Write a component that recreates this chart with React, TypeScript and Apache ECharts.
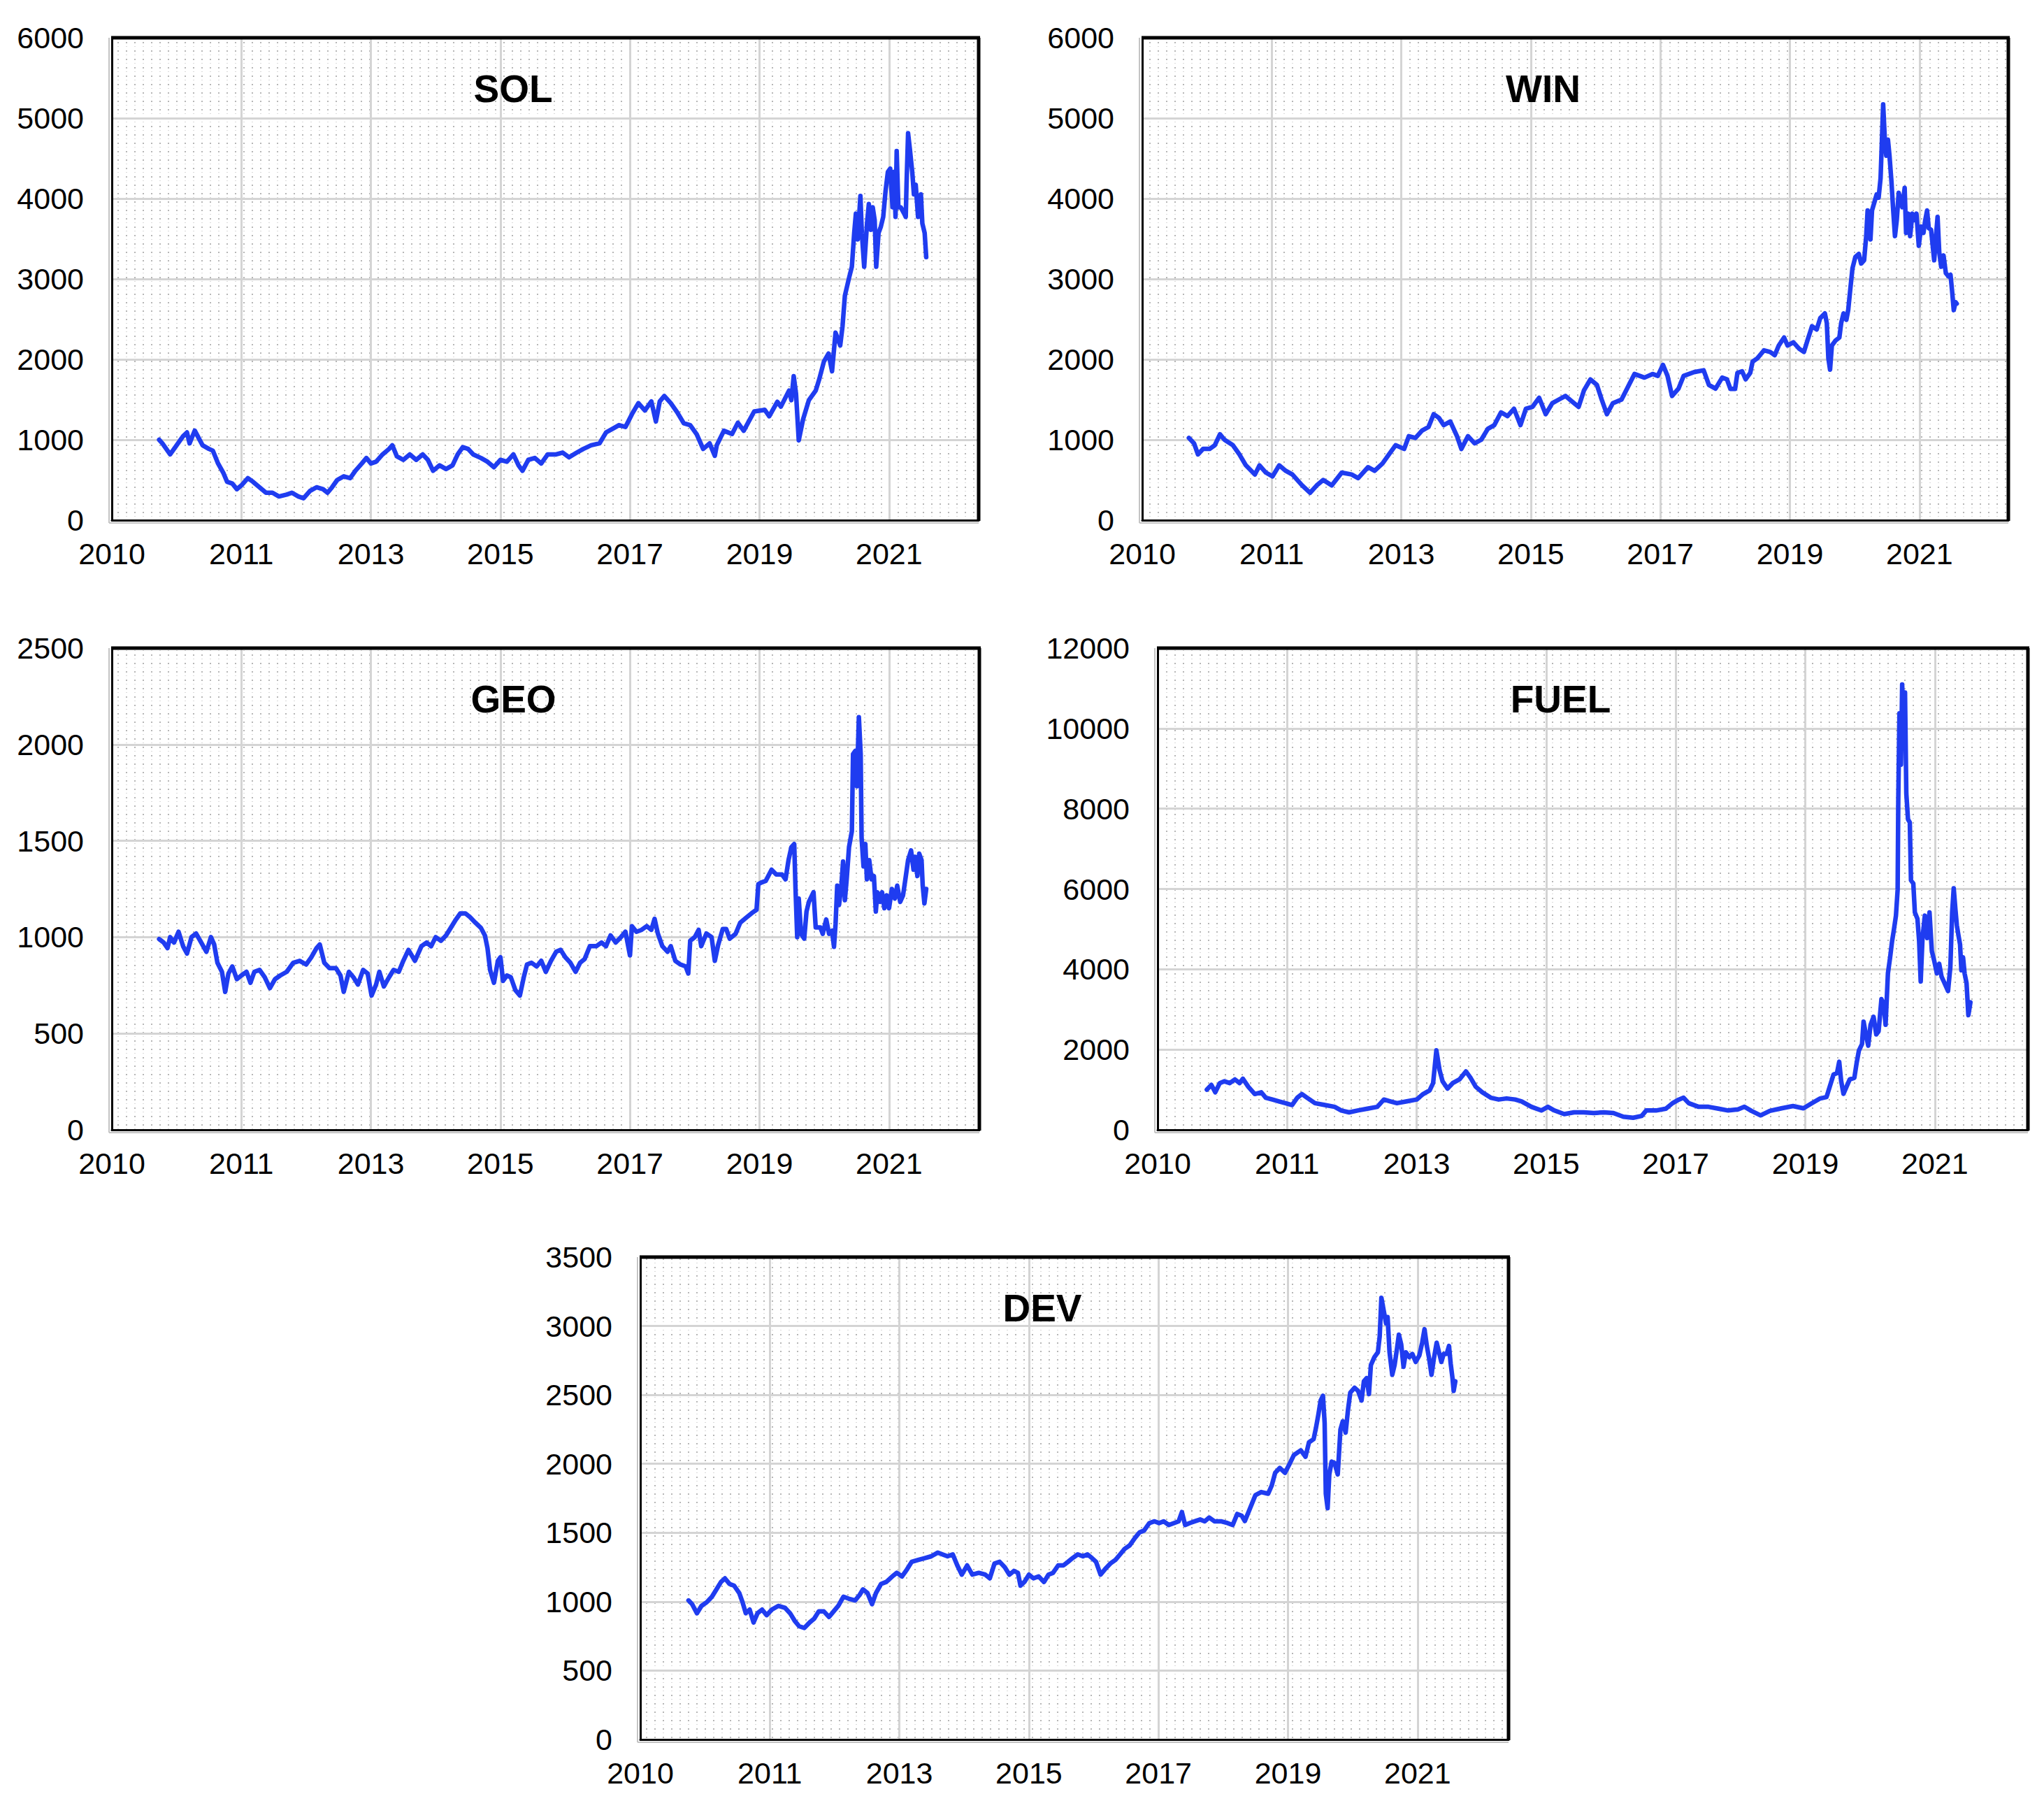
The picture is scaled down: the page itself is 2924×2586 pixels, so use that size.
import React, { useEffect, useRef } from "react";
import * as echarts from "echarts";

// ---------- data (x = position in tick units: 0 = "2010", 1 = "2011", 2 = "2013", ...) ----------
const xLabels = ["2010", "2011", "2013", "2015", "2017", "2019", "2021"];

const solData: [number, number][] = [
  [0.365, 1000], [0.39, 955], [0.45, 818], [0.5, 932], [0.55, 1045], [0.58, 1091], [0.6, 955], [0.64, 1114],
  [0.67, 1023], [0.7, 932], [0.75, 886], [0.78, 864], [0.82, 705], [0.86, 591], [0.89, 477], [0.93, 455],
  [0.965, 386], [1.0, 432], [1.05, 523], [1.09, 477], [1.14, 409], [1.19, 341], [1.24, 341], [1.29, 295],
  [1.35, 318], [1.39, 341], [1.44, 295], [1.48, 273], [1.53, 364], [1.58, 409], [1.63, 386], [1.665, 341],
  [1.7, 409], [1.74, 500], [1.79, 545], [1.84, 523], [1.88, 614], [1.93, 705], [1.965, 773], [2.0, 705],
  [2.04, 727], [2.09, 818], [2.14, 886], [2.165, 932], [2.2, 795], [2.25, 750], [2.3, 818], [2.35, 750],
  [2.4, 818], [2.44, 750], [2.48, 614], [2.53, 682], [2.58, 636], [2.63, 682], [2.67, 818], [2.71, 909],
  [2.75, 886], [2.79, 818], [2.85, 773], [2.9, 727], [2.95, 659], [3.0, 750], [3.05, 727], [3.1, 818],
  [3.14, 682], [3.17, 614], [3.215, 750], [3.265, 773], [3.315, 705], [3.365, 818], [3.43, 818], [3.48, 841],
  [3.53, 782], [3.59, 841], [3.64, 886], [3.7, 932], [3.765, 955], [3.815, 1091], [3.865, 1136], [3.915, 1182],
  [3.965, 1159], [4.015, 1318], [4.065, 1455], [4.115, 1364], [4.165, 1477], [4.2, 1227], [4.23, 1477],
  [4.265, 1545], [4.315, 1455], [4.365, 1341], [4.415, 1205], [4.465, 1182], [4.515, 1068], [4.565, 886],
  [4.615, 955], [4.655, 800], [4.67, 932], [4.725, 1112], [4.788, 1072], [4.833, 1212], [4.878, 1112],
  [4.959, 1352], [5.04, 1372], [5.075, 1292], [5.138, 1472], [5.165, 1412], [5.228, 1612], [5.246, 1492],
  [5.264, 1792], [5.282, 1572], [5.303, 992], [5.336, 1252], [5.381, 1492], [5.434, 1612], [5.461, 1752],
  [5.497, 1972], [5.533, 2072], [5.56, 1852], [5.587, 2332], [5.623, 2172], [5.641, 2412], [5.659, 2792],
  [5.691, 3012], [5.713, 3152], [5.731, 3572], [5.744, 3812], [5.758, 3492], [5.779, 4032], [5.79, 3572],
  [5.808, 3152], [5.83, 3692], [5.844, 3932], [5.86, 3612], [5.874, 3892], [5.889, 3732], [5.901, 3152],
  [5.919, 3572], [5.937, 3652], [5.955, 3772], [5.973, 4092], [5.991, 4332], [6.009, 4372], [6.027, 3892],
  [6.039, 4332], [6.05, 3772], [6.059, 4592], [6.072, 3892], [6.09, 3892], [6.117, 3812], [6.129, 3772],
  [6.135, 4172], [6.147, 4812], [6.161, 4612], [6.179, 4332], [6.192, 4052], [6.206, 4172], [6.224, 3772],
  [6.246, 4052], [6.257, 3692], [6.275, 3572], [6.287, 3272],
];

const winData: [number, number][] = [
  [0.36, 1023], [0.4, 955], [0.43, 818], [0.47, 886], [0.52, 886], [0.56, 932], [0.6, 1068], [0.635, 1000],
  [0.7, 932], [0.75, 818], [0.8, 682], [0.87, 568], [0.905, 682], [0.955, 591], [1.006, 545], [1.057, 682],
  [1.108, 614], [1.159, 568], [1.235, 432], [1.296, 341], [1.347, 432], [1.397, 500], [1.463, 432],
  [1.54, 591], [1.616, 568], [1.667, 523], [1.743, 659], [1.794, 614], [1.855, 705], [1.905, 818],
  [1.956, 932], [2.022, 886], [2.058, 1045], [2.109, 1023], [2.16, 1114], [2.21, 1159], [2.25, 1318],
  [2.29, 1273], [2.327, 1182], [2.378, 1227], [2.43, 1045], [2.464, 886], [2.515, 1045], [2.566, 955],
  [2.617, 1000], [2.668, 1136], [2.718, 1182], [2.77, 1341], [2.82, 1295], [2.87, 1386], [2.92, 1182],
  [2.962, 1386], [3.013, 1409], [3.064, 1523], [3.115, 1318], [3.166, 1455], [3.216, 1500], [3.267, 1545],
  [3.318, 1477], [3.369, 1409], [3.41, 1614], [3.46, 1750], [3.51, 1682], [3.547, 1500], [3.587, 1318],
  [3.633, 1455], [3.7, 1500], [3.75, 1659], [3.8, 1818], [3.877, 1773], [3.94, 1818], [3.98, 1795],
  [4.02, 1932], [4.055, 1795], [4.09, 1545], [4.14, 1636], [4.18, 1795], [4.26, 1841], [4.334, 1864],
  [4.375, 1682], [4.426, 1636], [4.477, 1773], [4.514, 1752], [4.541, 1632], [4.577, 1632], [4.595, 1832],
  [4.631, 1852], [4.658, 1752], [4.694, 1832], [4.712, 1972], [4.748, 2012], [4.8, 2112], [4.847, 2092],
  [4.883, 2052], [4.914, 2172], [4.955, 2272], [4.982, 2172], [5.027, 2212], [5.072, 2132], [5.108, 2092],
  [5.135, 2232], [5.171, 2412], [5.207, 2372], [5.234, 2512], [5.27, 2572], [5.285, 2452], [5.297, 2012],
  [5.31, 1872], [5.324, 2172], [5.351, 2232], [5.382, 2272], [5.396, 2452], [5.414, 2572], [5.436, 2492],
  [5.45, 2612], [5.465, 2852], [5.483, 3132], [5.505, 3272], [5.532, 3312], [5.55, 3192], [5.573, 3232],
  [5.589, 3532], [5.6, 3852], [5.622, 3492], [5.634, 3852], [5.652, 3952], [5.67, 4052], [5.685, 4012],
  [5.7, 4252], [5.708, 4612], [5.72, 5172], [5.733, 4732], [5.744, 4532], [5.757, 4732], [5.769, 4532],
  [5.784, 4212], [5.796, 3892], [5.811, 3532], [5.825, 3732], [5.84, 4072], [5.856, 3972], [5.868, 3892],
  [5.886, 4132], [5.897, 3572], [5.915, 3812], [5.928, 3532], [5.946, 3812], [5.964, 3732], [5.977, 3812],
  [5.995, 3412], [6.013, 3652], [6.031, 3572], [6.045, 3732], [6.059, 3852], [6.072, 3632], [6.09, 3612],
  [6.114, 3232], [6.13, 3572], [6.14, 3772], [6.153, 3332], [6.168, 3152], [6.186, 3292], [6.204, 3072],
  [6.225, 3032], [6.24, 3052], [6.252, 2852], [6.265, 2612], [6.279, 2712], [6.288, 2692],
];

const geoData: [number, number][] = [
  [0.365, 990], [0.4, 972], [0.43, 943], [0.45, 1000], [0.48, 972], [0.515, 1028], [0.55, 953], [0.58, 915],
  [0.615, 1000], [0.65, 1019], [0.69, 972], [0.73, 924], [0.765, 1000], [0.79, 962], [0.815, 867], [0.85, 820],
  [0.875, 716], [0.9, 811], [0.93, 848], [0.965, 782], [1.0, 801], [1.04, 820], [1.07, 763], [1.1, 820],
  [1.14, 830], [1.18, 792], [1.22, 735], [1.26, 782], [1.3, 801], [1.35, 820], [1.4, 867], [1.45, 877],
  [1.5, 858], [1.54, 896], [1.58, 943], [1.605, 962], [1.64, 867], [1.68, 839], [1.73, 839], [1.765, 801],
  [1.79, 716], [1.83, 820], [1.865, 792], [1.9, 754], [1.94, 830], [1.975, 811], [2.005, 697], [2.04, 754],
  [2.065, 820], [2.1, 744], [2.14, 792], [2.175, 830], [2.215, 820], [2.25, 877], [2.29, 934], [2.34, 877],
  [2.39, 953], [2.43, 972], [2.465, 953], [2.5, 1000], [2.54, 981], [2.58, 1009], [2.615, 1047], [2.65, 1085],
  [2.69, 1123], [2.73, 1123], [2.765, 1104], [2.805, 1076], [2.85, 1047], [2.88, 1009], [2.9, 943], [2.92, 830],
  [2.95, 763], [2.98, 877], [3.0, 896], [3.02, 773], [3.05, 801], [3.08, 792], [3.115, 725], [3.15, 697],
  [3.18, 792], [3.205, 858], [3.24, 867], [3.28, 848], [3.315, 877], [3.35, 820], [3.39, 877], [3.43, 924],
  [3.465, 934], [3.5, 896], [3.54, 867], [3.58, 820], [3.615, 867], [3.65, 886], [3.69, 953], [3.74, 953],
  [3.78, 972], [3.815, 953], [3.85, 1009], [3.89, 972], [3.93, 1000], [3.965, 1028], [4.0, 905], [4.015, 1057],
  [4.05, 1028], [4.09, 1038], [4.13, 1057], [4.165, 1038], [4.19, 1095], [4.215, 1019], [4.25, 953], [4.29, 924],
  [4.315, 953], [4.35, 877], [4.39, 858], [4.43, 848], [4.45, 811], [4.465, 981], [4.5, 1000], [4.53, 1038],
  [4.55, 953], [4.59, 1019], [4.63, 1000], [4.655, 877], [4.68, 958], [4.716, 1042], [4.743, 1042], [4.77, 992],
  [4.815, 1017], [4.851, 1075], [4.896, 1100], [4.941, 1125], [4.977, 1142], [4.991, 1275], [5.013, 1283],
  [5.048, 1292], [5.093, 1350], [5.129, 1325], [5.174, 1325], [5.201, 1300], [5.224, 1400], [5.246, 1467],
  [5.268, 1483], [5.278, 1250], [5.291, 1000], [5.303, 1200], [5.321, 1017], [5.345, 992], [5.363, 1133],
  [5.381, 1183], [5.417, 1233], [5.434, 1050], [5.47, 1050], [5.488, 1017], [5.515, 1092], [5.537, 1017],
  [5.56, 1033], [5.575, 950], [5.587, 1067], [5.6, 1267], [5.614, 1167], [5.632, 1267], [5.645, 1392],
  [5.659, 1192], [5.673, 1300], [5.691, 1467], [5.713, 1550], [5.722, 1950], [5.74, 1967], [5.752, 1783],
  [5.767, 2142], [5.781, 1950], [5.788, 1517], [5.803, 1367], [5.817, 1483], [5.829, 1300], [5.847, 1400],
  [5.865, 1300], [5.883, 1317], [5.898, 1133], [5.91, 1233], [5.932, 1183], [5.946, 1233], [5.964, 1150],
  [5.982, 1217], [6.0, 1150], [6.022, 1250], [6.045, 1200], [6.063, 1267], [6.086, 1183], [6.108, 1217],
  [6.126, 1300], [6.147, 1400], [6.17, 1450], [6.189, 1350], [6.201, 1417], [6.219, 1317], [6.233, 1433],
  [6.251, 1400], [6.26, 1267], [6.273, 1175], [6.287, 1250],
];

const fuelData: [number, number][] = [
  [0.38, 1000], [0.415, 1118], [0.445, 936], [0.48, 1164], [0.516, 1209], [0.557, 1164], [0.597, 1255],
  [0.633, 1164], [0.658, 1273], [0.7, 1073], [0.75, 891], [0.8, 936], [0.835, 800], [0.886, 755], [0.937, 709],
  [0.987, 664], [1.038, 618], [1.078, 800], [1.114, 891], [1.154, 800], [1.215, 664], [1.291, 618], [1.367, 573],
  [1.418, 482], [1.478, 436], [1.544, 482], [1.62, 527], [1.696, 573], [1.747, 755], [1.797, 709], [1.848, 664],
  [1.924, 709], [2.0, 755], [2.05, 891], [2.1, 982], [2.127, 1164], [2.152, 1982], [2.177, 1482], [2.2, 1209],
  [2.238, 1027], [2.278, 1164], [2.33, 1255], [2.38, 1455], [2.415, 1300], [2.456, 1073], [2.506, 936],
  [2.572, 800], [2.633, 755], [2.694, 782], [2.76, 755], [2.81, 709], [2.886, 573], [2.962, 482], [3.013, 573],
  [3.063, 482], [3.139, 391], [3.215, 436], [3.29, 436], [3.367, 418], [3.443, 436], [3.519, 418], [3.595, 327],
  [3.671, 300], [3.737, 345], [3.772, 482], [3.848, 482], [3.924, 527], [3.975, 664], [4.025, 755], [4.06, 800],
  [4.1, 664], [4.177, 573], [4.253, 573], [4.33, 527], [4.405, 482], [4.481, 509], [4.53, 576], [4.584, 472],
  [4.655, 360], [4.727, 472], [4.816, 536], [4.905, 592], [4.986, 536], [5.048, 656], [5.111, 776],
  [5.164, 816], [5.191, 1096], [5.218, 1376], [5.245, 1416], [5.262, 1696], [5.277, 1216], [5.295, 896],
  [5.316, 1056], [5.343, 1256], [5.379, 1296], [5.396, 1656], [5.414, 1976], [5.438, 2136], [5.45, 2696],
  [5.468, 2376], [5.486, 2096], [5.504, 2616], [5.527, 2816], [5.548, 2376], [5.566, 2456], [5.588, 3256],
  [5.605, 3136], [5.62, 2616], [5.638, 3896], [5.655, 4296], [5.67, 4696], [5.682, 4936], [5.7, 5336],
  [5.713, 5976], [5.718, 8216], [5.727, 10376], [5.739, 9096], [5.748, 11096], [5.759, 9896], [5.77, 10896],
  [5.78, 8376], [5.793, 7736], [5.807, 7656], [5.816, 6216], [5.834, 6136], [5.846, 5416], [5.866, 5256],
  [5.879, 4696], [5.891, 3696], [5.905, 4776], [5.923, 5336], [5.941, 4776], [5.959, 5416], [5.977, 4456],
  [5.995, 4216], [6.016, 3896], [6.034, 4136], [6.052, 3816], [6.075, 3656], [6.102, 3456], [6.12, 4056],
  [6.134, 5416], [6.146, 6016], [6.159, 5496], [6.17, 5096], [6.182, 4856], [6.195, 4616], [6.205, 3976],
  [6.218, 4296], [6.23, 3896], [6.245, 3656], [6.259, 2856], [6.275, 3176],
];

const devData: [number, number][] = [
  [0.372, 1009], [0.4, 982], [0.437, 916], [0.472, 969], [0.513, 996], [0.553, 1036], [0.588, 1089],
  [0.623, 1143], [0.653, 1169], [0.688, 1129], [0.724, 1116], [0.764, 1062], [0.789, 996], [0.814, 916],
  [0.844, 942], [0.874, 849], [0.905, 916], [0.94, 942], [0.975, 902], [1.015, 942], [1.065, 969], [1.116, 956],
  [1.156, 916], [1.191, 862], [1.226, 822], [1.266, 809], [1.307, 849], [1.342, 876], [1.377, 929], [1.417, 929],
  [1.457, 889], [1.492, 929], [1.528, 969], [1.568, 1036], [1.608, 1022], [1.658, 1009], [1.693, 1049],
  [1.719, 1089], [1.754, 1062], [1.789, 982], [1.819, 1062], [1.859, 1129], [1.899, 1143], [1.945, 1183],
  [1.98, 1209], [2.02, 1183], [2.06, 1236], [2.095, 1289], [2.146, 1303], [2.196, 1316], [2.246, 1329],
  [2.297, 1356], [2.332, 1343], [2.372, 1329], [2.412, 1343], [2.447, 1263], [2.482, 1196], [2.523, 1263],
  [2.563, 1196], [2.613, 1209], [2.663, 1196], [2.698, 1169], [2.734, 1276], [2.774, 1289], [2.814, 1249],
  [2.849, 1196], [2.884, 1223], [2.915, 1209], [2.935, 1116], [2.965, 1143], [3.0, 1196], [3.035, 1169],
  [3.075, 1183], [3.116, 1143], [3.151, 1196], [3.186, 1209], [3.226, 1263], [3.266, 1263], [3.302, 1289],
  [3.337, 1316], [3.377, 1343], [3.417, 1329], [3.452, 1343], [3.487, 1316], [3.518, 1289], [3.553, 1196],
  [3.588, 1236], [3.628, 1276], [3.668, 1303], [3.704, 1343], [3.739, 1383], [3.779, 1409], [3.819, 1463],
  [3.854, 1503], [3.889, 1516], [3.93, 1570], [3.97, 1583], [4.005, 1570], [4.04, 1583], [4.08, 1556],
  [4.12, 1570], [4.156, 1583], [4.181, 1650], [4.206, 1556], [4.241, 1570], [4.281, 1583], [4.322, 1596],
  [4.357, 1583], [4.392, 1610], [4.432, 1583], [4.482, 1583], [4.533, 1570], [4.573, 1556], [4.608, 1636],
  [4.643, 1623], [4.667, 1585], [4.703, 1667], [4.748, 1772], [4.793, 1795], [4.847, 1783], [4.874, 1841],
  [4.901, 1935], [4.937, 1970], [4.977, 1935], [5.009, 1993], [5.045, 2063], [5.099, 2098], [5.135, 2051],
  [5.162, 2156], [5.198, 2179], [5.216, 2261], [5.234, 2354], [5.252, 2459], [5.27, 2494], [5.283, 2296],
  [5.292, 1783], [5.306, 1678], [5.319, 1923], [5.337, 2016], [5.36, 2005], [5.384, 1923], [5.405, 2249],
  [5.423, 2308], [5.445, 2226], [5.463, 2389], [5.481, 2517], [5.514, 2552], [5.541, 2529], [5.568, 2459],
  [5.586, 2599], [5.607, 2622], [5.625, 2506], [5.64, 2716], [5.667, 2774], [5.694, 2809], [5.708, 2925],
  [5.721, 3205], [5.739, 3112], [5.757, 3019], [5.769, 3065], [5.784, 2809], [5.805, 2646], [5.823, 2716],
  [5.841, 2832], [5.856, 2937], [5.874, 2867], [5.892, 2704], [5.91, 2809], [5.937, 2774], [5.96, 2797],
  [5.986, 2739], [6.014, 2786], [6.036, 2879], [6.054, 2977], [6.072, 2855], [6.09, 2762], [6.108, 2646],
  [6.126, 2762], [6.148, 2879], [6.166, 2809], [6.184, 2739], [6.202, 2797], [6.225, 2797], [6.243, 2855],
  [6.256, 2727], [6.27, 2622], [6.279, 2529], [6.292, 2599],
];

const panelNames = ["SOL", "WIN", "GEO", "FUEL", "DEV"];
const panelSeries = [solData, winData, geoData, fuelData, devData];
const yMaxes = [6000, 6000, 2500, 12000, 3500];
const ySteps = [1000, 1000, 500, 2000, 500];

// ---------- layout (pixels) ----------
const layouts = [
  { left: 160, top: 54, width: 1240, height: 690 },
  { left: 1634, top: 54, width: 1239, height: 690 },
  { left: 160, top: 927, width: 1241, height: 689 },
  { left: 1656, top: 927, width: 1245, height: 689 },
  { left: 916, top: 1798, width: 1242, height: 690 },
];
const TICK_PX = 185.3;
const FONT = '"Liberation Sans", Arial, Helvetica, sans-serif';
const LINE_COLOR = "#1f3cf0";
const GRID_COLOR = "#d4d4d4";

function makePattern(): string {
  const c = document.createElement("canvas");
  c.width = 12;
  c.height = 12;
  const ctx = c.getContext("2d");
  if (ctx) {
    ctx.fillStyle = "rgba(110,110,110,0.5)";
    ctx.fillRect(0, 0, 2, 2);
    ctx.fillStyle = "rgba(110,110,110,0.25)";
    ctx.fillRect(0, 6, 2, 1);
  }
  return c.toDataURL();
}

export default function App() {
  const ref = useRef<HTMLDivElement>(null);

  useEffect(() => {
    if (!ref.current) return;
    const chart = echarts.init(ref.current, undefined, { renderer: "svg" });
    const patternSrc = makePattern();
    const pattern: any = { image: patternSrc, repeat: "repeat", imageWidth: 12, imageHeight: 12 };

    const graphic: any[] = [];
    layouts.forEach((l, i) => {
      const right = l.left + l.width;
      const bottom = l.top + l.height;
      graphic.push({
        type: "line", silent: true, z: 50,
        shape: { x1: l.left - 4, y1: l.top, x2: l.left - 4, y2: bottom + 4 },
        style: { stroke: "#c4c4c4", lineWidth: 2 },
      });
      graphic.push({
        type: "line", silent: true, z: 50,
        shape: { x1: l.left - 4, y1: bottom + 4, x2: right, y2: bottom + 4 },
        style: { stroke: "#c4c4c4", lineWidth: 2 },
      });
      graphic.push({
        type: "line", silent: true, z: 50,
        shape: { x1: l.left - 1, y1: l.top, x2: right + 2, y2: l.top },
        style: { stroke: "#000", lineWidth: 5 },
      });
      graphic.push({
        type: "line", silent: true, z: 50,
        shape: { x1: right, y1: l.top, x2: right, y2: bottom + 1 },
        style: { stroke: "#000", lineWidth: 5 },
      });
      graphic.push({
        type: "text", silent: true, z: 60,
        x: l.left + l.width / 2 - 46,
        y: l.top + 73,
        style: {
          text: panelNames[i],
          fill: "#000",
          font: `bold 55px ${FONT}`,
          align: "center",
          verticalAlign: "middle",
          textAlign: "center",
          textVerticalAlign: "middle",
        },
      });
    });

    const option: any = {
      animation: false,
      backgroundColor: "#ffffff",
      grid: layouts.map((l) => ({
        left: l.left, top: l.top, width: l.width, height: l.height,
        show: true, backgroundColor: pattern, borderWidth: 0, containLabel: false,
      })),
      xAxis: layouts.map((l, i) => ({
        gridIndex: i,
        type: "value",
        min: 0,
        max: l.width / TICK_PX,
        interval: 1,
        axisLine: { show: true, onZero: false, lineStyle: { color: "#000", width: 3 } },
        axisTick: { show: false },
        axisLabel: {
          margin: 26,
          fontSize: 43,
          color: "#000",
          fontFamily: FONT,
          formatter: (v: number) => {
            const k = Math.round(v);
            if (Math.abs(v - k) > 1e-6) return "";
            return xLabels[k] ?? "";
          },
        },
        splitLine: { show: true, lineStyle: { color: GRID_COLOR, width: 3 } },
      })),
      yAxis: layouts.map((l, i) => ({
        gridIndex: i,
        type: "value",
        min: 0,
        max: yMaxes[i],
        interval: ySteps[i],
        axisLine: { show: true, lineStyle: { color: "#000", width: 3 } },
        axisTick: { show: false },
        axisLabel: {
          margin: 40, fontSize: 43, color: "#000", fontFamily: FONT,
          formatter: (v: number) => String(Math.round(v)),
        },
        splitLine: { show: true, lineStyle: { color: GRID_COLOR, width: 3 } },
      })),
      series: panelSeries.map((d, i) => ({
        type: "line",
        name: panelNames[i],
        xAxisIndex: i,
        yAxisIndex: i,
        data: d,
        showSymbol: false,
        symbol: "none",
        silent: true,
        lineStyle: { color: LINE_COLOR, width: 6.5, join: "round", cap: "round" },
        z: 10,
      })),
      graphic,
    };
    chart.setOption(option);
    return () => chart.dispose();
  }, []);

  return (
    <div
      ref={ref}
      style={{ position: "absolute", left: 0, top: 0, width: 2924, height: 2586, background: "#fff" }}
    />
  );
}
